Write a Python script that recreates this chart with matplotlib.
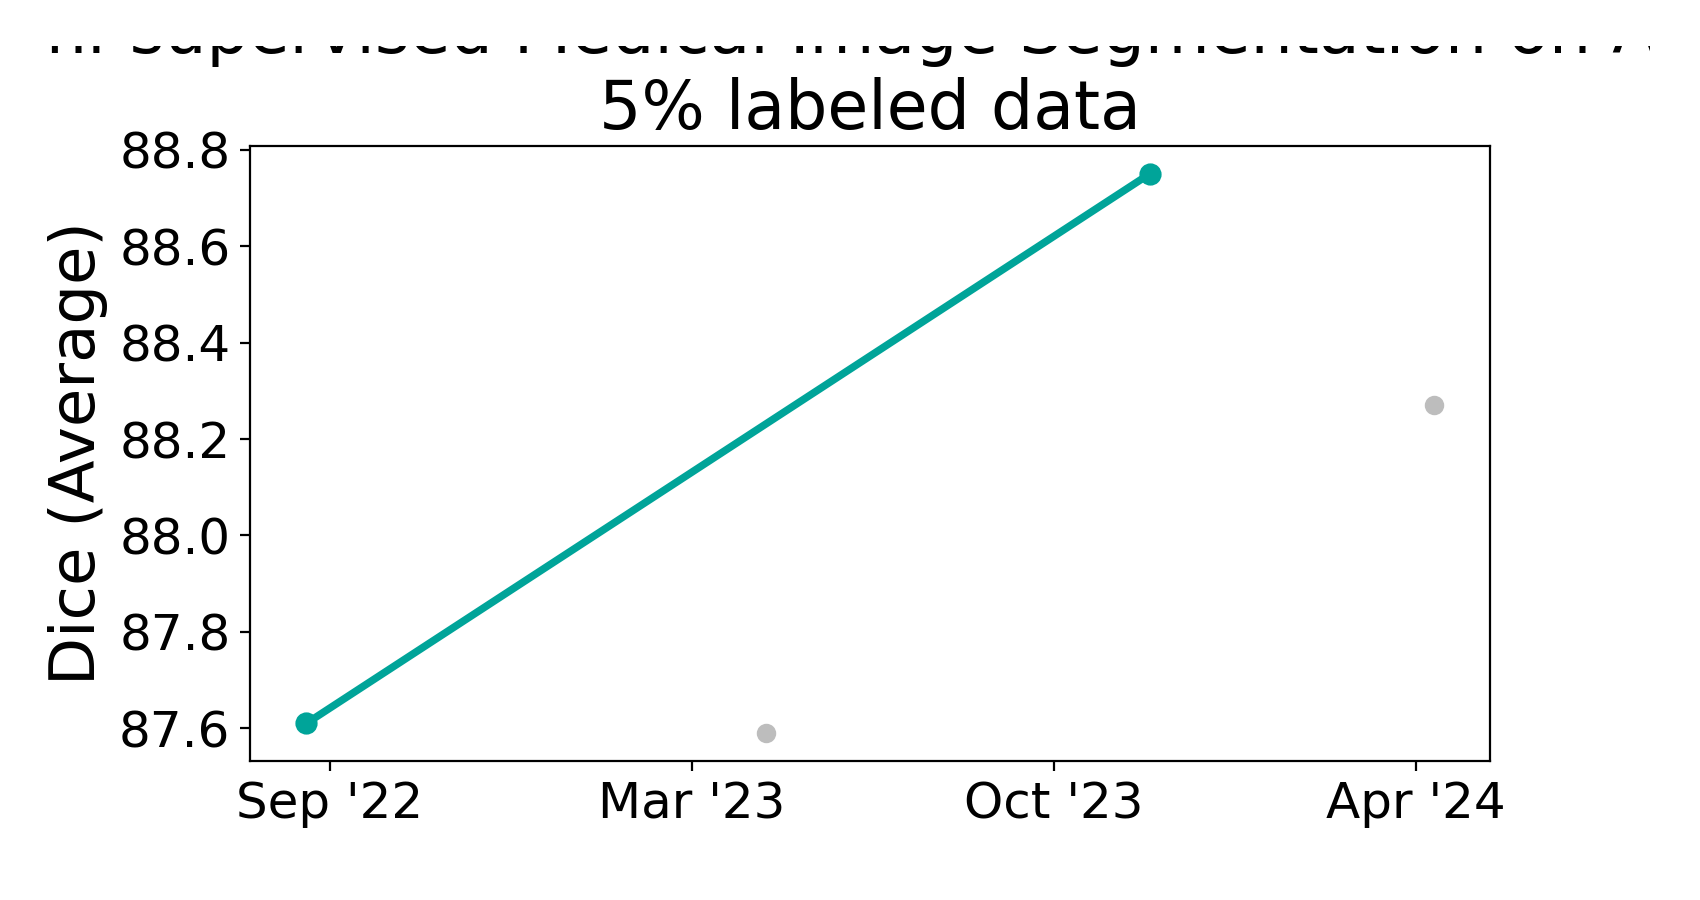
import matplotlib
matplotlib.use("Agg")
import matplotlib.pyplot as plt
import matplotlib.dates as mdates
from matplotlib.ticker import MultipleLocator, FormatStrFormatter
from matplotlib.transforms import Bbox, TransformedBbox
import numpy as np

# state of the art line (teal) and other methods (gray)
sota_dates = ["2022-08-20", "2023-11-29"]
sota_dice = [87.61, 88.75]
other_dates = ["2023-05-01", "2024-05-04"]
other_dice = [87.59, 88.27]
tick_dates = ["2022-09-02", "2023-03-21", "2023-10-07", "2024-04-24"]

title = "Semi-supervised Medical Image Segmentation on ACDC\n5% labeled data"

fig = plt.figure(figsize=(8.5, 4.5), dpi=200)
ax = fig.add_subplot(111)
fig.subplots_adjust(left=0.147, right=0.8765, bottom=0.1544, top=0.8378)

ax.plot(np.array(other_dates, dtype="datetime64[D]"), other_dice, "o",
        color="#bdbdbd", markersize=6, linestyle="none")
ax.plot(np.array(sota_dates, dtype="datetime64[D]"), sota_dice, "o-",
        color="#00a499", markersize=7, linewidth=2.7)

ax.set_xticks(np.array(tick_dates, dtype="datetime64[D]"))
ax.xaxis.set_major_formatter(mdates.DateFormatter("%b '%y"))
ax.yaxis.set_major_locator(MultipleLocator(0.2))
ax.yaxis.set_major_formatter(FormatStrFormatter("%.1f"))
ax.tick_params(labelsize=18)
ax.set_ylabel("Dice (Average)", fontsize=22.5)
t = ax.set_title(title, fontsize=24)

# the original render crops the long first title line at the frame
t.set_clip_box(TransformedBbox(Bbox([[0.028, 0.0], [0.9706, 0.949]]), fig.transFigure))
t.set_clip_on(True)

fig.savefig("out.png", dpi=200)
